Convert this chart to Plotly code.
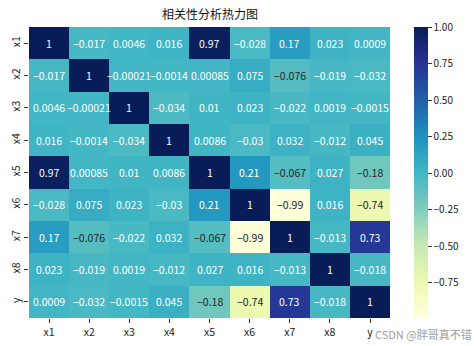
import plotly.graph_objects as go
import plotly.express as px

labels = ["x1", "x2", "x3", "x4", "x5", "x6", "x7", "x8", "y"]
corr = [
    [1, -0.017, 0.0046, 0.016, 0.97, -0.028, 0.17, 0.023, 0.0009],
    [-0.017, 1, -0.00021, -0.0014, 0.00085, 0.075, -0.076, -0.019, -0.032],
    [0.0046, -0.00021, 1, -0.034, 0.01, 0.023, -0.022, 0.0019, -0.0015],
    [0.016, -0.0014, -0.034, 1, 0.0086, -0.03, 0.032, -0.012, 0.045],
    [0.97, 0.00085, 0.01, 0.0086, 1, 0.21, -0.067, 0.027, -0.18],
    [-0.028, 0.075, 0.023, -0.03, 0.21, 1, -0.99, 0.016, -0.74],
    [0.17, -0.076, -0.022, 0.032, -0.067, -0.99, 1, -0.013, 0.73],
    [0.023, -0.019, 0.0019, -0.012, 0.027, 0.016, -0.013, 1, -0.018],
    [0.0009, -0.032, -0.0015, 0.045, -0.18, -0.74, 0.73, -0.018, 1],
]
cbar_ticks = [-0.75, -0.5, -0.25, 0.0, 0.25, 0.5, 0.75, 1.0]

FONT = "Noto Sans CJK SC, sans-serif"
cs = px.colors.sequential.YlGnBu
colorscale = [[i / (len(cs) - 1), c] for i, c in enumerate(cs)]

W, H = 474, 346
L, R, T, B = 29, 83, 27, 28
PW = W - L - R

fig = go.Figure(go.Heatmap(
    z=corr, x=labels, y=labels,
    colorscale=colorscale, zmin=-0.99, zmax=1,
    colorbar=dict(
        x=(414 - L) / PW, xanchor="left",
        y=0.5, yanchor="middle", len=1, lenmode="fraction",
        thickness=14, outlinewidth=0, xpad=0, ypad=0,
        tickvals=cbar_ticks, tickformat=".2f",
        ticks="outside", ticklen=4, tickcolor="#333",
        tickfont=dict(family=FONT, size=10, color="#222"),
    ),
))

annotations = []
for i, row in enumerate(corr):
    for j, v in enumerate(row):
        annotations.append(dict(
            x=labels[j], y=labels[i], xref="x", yref="y",
            text=f"{v:.2g}".replace("-", "−"), showarrow=False,
            font=dict(family=FONT, size=10.5,
                      color="#262626" if v < -0.05 else "white"),
        ))
annotations.append(dict(
    x=1.0, y=0.0, xref="paper", yref="paper", xanchor="right", yanchor="bottom",
    xshift=R, yshift=-B + 2, text="CSDN @胖哥真不错", showarrow=False,
    font=dict(family=FONT, size=11, color="#a0a0a0"),
))

fig.update_layout(
    width=W, height=H,
    margin=dict(l=L, r=R, t=T, b=B, autoexpand=False),
    paper_bgcolor="white", plot_bgcolor="white",
    title=dict(text="相关性分析热力图", x=210 / W, xanchor="center",
               y=1 - 15 / H, yanchor="middle",
               font=dict(family=FONT, size=12, color="#111")),
    xaxis=dict(showgrid=False, zeroline=False, ticks="outside", ticklen=4,
               tickcolor="#333", tickfont=dict(family=FONT, size=10.5, color="#222")),
    yaxis=dict(showgrid=False, zeroline=False, autorange="reversed",
               ticks="outside", ticklen=4, tickcolor="#333", tickangle=-90,
               tickfont=dict(family=FONT, size=10.5, color="#222")),
    annotations=annotations,
    showlegend=False,
)

fig.write_html("out.html")
